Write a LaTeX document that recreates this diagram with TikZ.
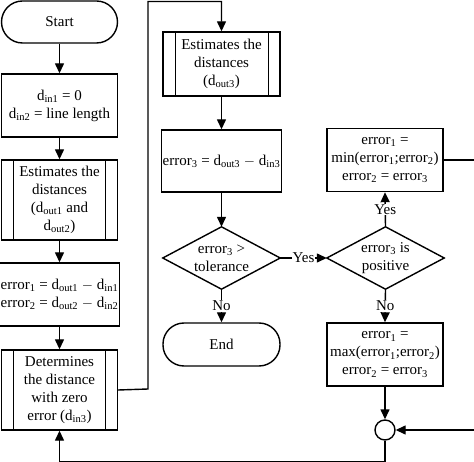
\documentclass[tikz,border=0pt]{standalone}
\usepackage{fontspec}
\setmainfont{Liberation Serif}
\usetikzlibrary{arrows.meta,calc}
\newcommand\myfs{\fontsize{15}{18}\selectfont}
\newcommand\sub[1]{\textsubscript{#1}}
\begin{document}
\begin{tikzpicture}[x=1pt,y=-1pt,
  ln/.style={line width=1.4pt},
  arr/.style={line width=1.4pt,-{Triangle[length=10pt,width=9pt]}},
  box/.style={draw,line width=1.4pt,minimum width=116pt,minimum height=63pt,align=center,inner sep=1pt,font=\myfs},
  term/.style={box,rounded corners=21pt,minimum height=42pt},
  pbox/.style={box,minimum height=80pt},
  dia/.style={minimum width=117pt,minimum height=62pt,align=center,inner sep=0pt,font=\myfs},
  lab/.style={fill=white,inner sep=1pt,font=\myfs}]
\useasboundingbox (0,0) rectangle (474,462);
% left column
\node[term] (start) at (59.5,22) {Start};
\node[box] (b1) at (59.5,105.5) {d\sub{in1} = 0\\d\sub{in2} = line length};
\node[pbox] (b2) at (59.5,200) {Estimates the\\distances\\(d\sub{out1} and\\d\sub{out2})};
\node[box] (b3) at (59.5,294.5) {error\sub{1} = d\sub{out1} $-$ d\sub{in1}\\error\sub{2} = d\sub{out2} $-$ d\sub{in2}};
\node[pbox] (b4) at (59.5,390) {Determines\\the distance\\with zero\\error (d\sub{in3})};
% middle column
\node[pbox,minimum width=117pt,minimum height=64pt] (e3) at (221.5,64) {Estimates the\\distances\\(d\sub{out3})};
\node[box,minimum width=117pt,minimum height=62pt] (err3) at (221.5,161) {error\sub{3} = d\sub{out3} $-$ d\sub{in3}};
\node[dia] (d1) at (221.5,258) {error\sub{3} >\\tolerance};
\node[term,minimum width=117pt,minimum height=43pt] (end) at (221.5,344.5) {End};
% right column
\node[dia] (d2) at (385.5,258) {error\sub{3} is\\positive};
\node[box] (mn) at (385,160) {error\sub{1} =\\min(error\sub{1};error\sub{2})\\error\sub{2} = error\sub{3}};
\node[box] (mx) at (385,354.5) {error\sub{1} =\\max(error\sub{1};error\sub{2})\\error\sub{2} = error\sub{3}};
\node[circle,draw,line width=1.4pt,minimum size=20pt,inner sep=0pt] (c) at (385,430) {};
% decorations
\foreach \n in {b2,b4}{
  \draw[ln] ($(\n.north west)+(12.5,0)$) -- ($(\n.south west)+(12.5,0)$);
  \draw[ln] ($(\n.north east)+(-12.5,0)$) -- ($(\n.south east)+(-12.5,0)$);
}
\draw[ln] ($(e3.north west)+(13,0)$) -- ($(e3.south west)+(13,0)$);
\draw[ln] ($(e3.north east)+(-12,0)$) -- ($(e3.south east)+(-12,0)$);
\draw[ln] (d1.north) -- (d1.east) -- (d1.south) -- (d1.west) -- cycle;
\draw[ln] (d2.north) -- (d2.east) -- (d2.south) -- (d2.west) -- cycle;
% connectors
\coordinate (t1) at (148,389);
\coordinate (t2) at (148,1.5);
\coordinate (t3) at (221.5,1.5);
\coordinate (r1) at (474,160);
\coordinate (r2) at (474,430);
\coordinate (q1) at (385,461.8);
\coordinate (q2) at (59.5,461.8);
\draw[arr] (start) -- (b1);
\draw[arr] (b1) -- (b2);
\draw[arr] (b2) -- (b3);
\draw[arr] (b3) -- (b4);
\draw[arr] (b4.east) -- (t1) -- (t2) -- (t3) -- (e3.north);
\draw[arr] (e3) -- (err3);
\draw[arr] (err3) -- (d1.north);
\draw[arr] (d1.south) -- node[lab]{No} (end);
\draw[arr] (d1.east) -- node[lab]{Yes} (d2.west);
\draw[arr] (d2.north) -- node[lab]{Yes} (mn.south);
\draw[arr] (d2.south) -- node[lab]{No} (mx.north);
\draw[ln] (mn.east) -- (r1);
\draw[arr] (mx) -- (c);
\draw[arr] (r2) -- (c.east);
\draw[arr] (c.south) -- (q1) -- (q2) -- (b4.south);
\end{tikzpicture}
\end{document}
